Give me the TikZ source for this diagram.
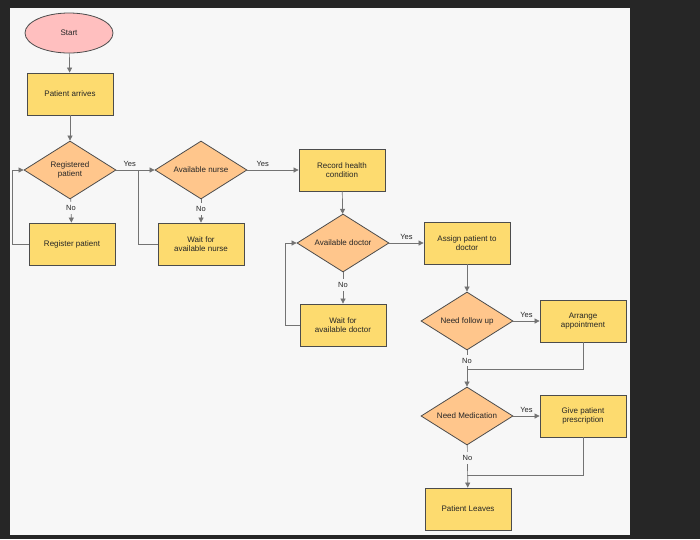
\documentclass[tikz,border=0pt]{standalone}
\usepackage{fontspec}
\setmainfont{Liberation Sans}
\usetikzlibrary{shapes.geometric,arrows.meta}
\begin{document}
\begin{tikzpicture}[x=1pt,y=-1pt,
  every node/.style={font=\fontsize{8}{9}\selectfont,align=center,text=black!85},
  box/.style={draw=black!70,fill=yellow!55!orange!55,minimum width=86pt,minimum height=42pt,line width=0.8pt},
  dia/.style={diamond,aspect=1.6,draw=black!70,fill=orange!45,minimum width=92pt,minimum height=58pt,inner sep=0pt,line width=0.8pt},
  term/.style={ellipse,draw=black!70,fill=red!25,minimum width=88pt,minimum height=40pt,line width=0.8pt},
  conn/.style={draw=black!55,line width=0.7pt},
  arr/.style={conn,-{Triangle[length=5pt,width=5pt]}},
  lbl/.style={font=\fontsize{7.5}{8}\selectfont}]
\useasboundingbox (0,0) rectangle (700,539);
\fill[black!85] (0,0) rectangle (700,539);
\fill[gray!6] (10,8) rectangle (630,535);
\node[term] (start) at (69,33) {Start};
\node[box] (arr) at (70,94) {Patient arrives};
\node[dia] (reg) at (70,170) {Registered\\patient};
\node[box] (regp) at (72,244) {Register patient};
\node[dia] (nurse) at (201,170) {Available nurse};
\node[box] (waitn) at (201,244) {Wait for\\available nurse};
\node[box] (rec) at (342,170) {Record health\\condition};
\node[dia] (doc) at (343,243) {Available doctor};
\node[box] (waitd) at (343,325) {Wait for\\available doctor};
\node[box] (assign) at (467,243) {Assign patient to\\doctor};
\node[dia] (fol) at (467,321) {Need follow up};
\node[box] (appt) at (583,321) {Arrange\\appointment};
\node[dia] (med) at (467,416) {Need Medication};
\node[box] (presc) at (583,416) {Give patient\\prescription};
\node[box] (leave) at (468,509) {Patient Leaves};
\coordinate (c1) at (12,244);
\coordinate (c2) at (12,170);
\coordinate (c3) at (138,244);
\coordinate (c4) at (138,170);
\coordinate (c5) at (285,325);
\coordinate (c6) at (285,243);
\coordinate (c7) at (583,369);
\coordinate (c8) at (467,369);
\coordinate (c9) at (583,475);
\coordinate (c10) at (467,475);
\draw[arr] (start) -- (arr);
\draw[arr] (arr) -- (reg);
\draw[arr] (regp.west) -- (c1) -- (c2) -- (reg.west);
\draw[arr] (reg) -- node[lbl,fill=gray!6,pos=0.4]{No} (regp);
\draw[arr] (reg.east) -- node[lbl,above,pos=0.35]{Yes} (nurse.west);
\draw[conn] (waitn.west) -- (c3) -- (c4);
\draw[arr] (nurse) -- node[lbl,fill=gray!6,pos=0.4]{No} (waitn);
\draw[arr] (nurse.east) -- node[lbl,above,pos=0.3]{Yes} (rec.west);
\draw[arr] (rec) -- (doc);
\draw[arr] (doc) -- node[lbl,fill=gray!6,pos=0.4]{No} (waitd);
\draw[arr] (waitd.west) -- (c5) -- (c6) -- (doc.west);
\draw[arr] (doc.east) -- node[lbl,above,pos=0.5]{Yes} (assign.west);
\draw[arr] (assign) -- (fol);
\draw[arr] (fol.east) -- node[lbl,above,pos=0.5]{Yes} (appt.west);
\draw[arr] (fol) -- node[lbl,fill=gray!6,pos=0.28]{No} (med);
\draw[conn] (appt.south) -- (c7) -- (c8);
\draw[arr] (med.east) -- node[lbl,above,pos=0.5]{Yes} (presc.west);
\draw[arr] (med) -- node[lbl,fill=gray!6,pos=0.3]{No} (leave);
\draw[conn] (presc.south) -- (c9) -- (c10);
\end{tikzpicture}
\end{document}
